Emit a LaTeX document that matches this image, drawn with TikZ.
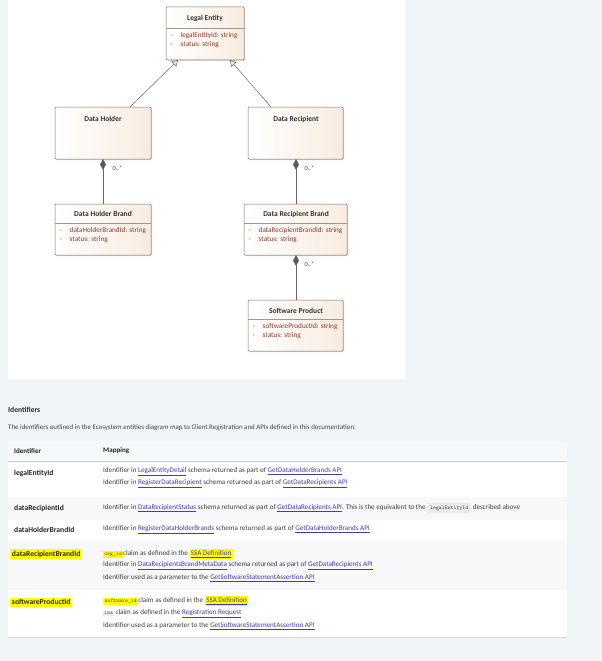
\documentclass[tikz,border=0pt]{standalone}
\usepackage{fontspec}
\setmainfont{Carlito}
\usetikzlibrary{arrows.meta,shadows}
\definecolor{pagebg}{HTML}{F2F5F8}
\definecolor{rowbg}{HTML}{F7F8FA}
\definecolor{attr}{HTML}{8A3B28}
\definecolor{lnk}{HTML}{4A3AB0}
\definecolor{hl}{HTML}{FFFF00}
\definecolor{codebg}{HTML}{ECECEC}
\newcommand{\lk}[1]{\textcolor{lnk}{\underline{#1}}}
\newcommand{\hlt}[1]{\colorbox{hl}{#1}}
\newcommand{\cd}[1]{{\fontsize{5.5}{6}\ttfamily #1}}
\tikzset{
  umlbox/.style={draw=black!55, line width=0.5pt, rounded corners=1pt, left color=white, right color=orange!30!brown!15, drop shadow={shadow xshift=1pt, shadow yshift=-1pt, opacity=0.3}},
  ttl/.style={font=\fontsize{7.5}{8}\selectfont\bfseries, text=black!80},
  att/.style={font=\fontsize{7.2}{9.5}\selectfont, text=attr, anchor=north west, align=left},
  gen/.style={draw=black!60, line width=0.5pt, -{Triangle[open, fill=orange!25, length=6pt, width=7pt]}},
  comp/.style={draw=black!60, line width=0.5pt, {Diamond[fill=black!65, length=11pt, width=6pt]}-},
  mult/.style={font=\fontsize{6.5}{7}\selectfont, text=black!70, anchor=west},
  tx/.style={font=\fontsize{7.1}{8}\selectfont, text=black!75, anchor=west, inner sep=0pt},
  idf/.style={font=\fontsize{7.6}{9}\selectfont\bfseries, text=black!85, anchor=west, inner sep=0pt}
}
\begin{document}
\begin{tikzpicture}[x=1pt,y=-1pt]
\fill[pagebg] (0,0) rectangle (602,661);
\useasboundingbox (0,0) rectangle (602,661);
\fill[white] (8,0) rectangle (405,379);
% boxes
\path[umlbox] (166,7) rectangle (244,60);
\draw[black!40,line width=0.4pt] (166,28) -- (244,28);
\node[ttl] (le) at (205,18) {Legal Entity};
\node[att] at (167,28.5) {-\hspace{8pt}legalEntityId: string\\-\hspace{8pt}status: string};
\path[umlbox] (55,107) rectangle (151,159);
\node[ttl] (dh) at (103,119) {Data Holder};
\path[umlbox] (248,107) rectangle (343,159);
\node[ttl] (dr) at (296,119) {Data Recipient};
\path[umlbox] (55,204) rectangle (151,255);
\draw[black!40,line width=0.4pt] (55,223) -- (151,223);
\node[ttl] (dhb) at (103,214) {Data Holder Brand};
\node[att] at (56,223.5) {-\hspace{8pt}dataHolderBrandId: string\\-\hspace{8pt}status: string};
\path[umlbox] (244,204) rectangle (347,255);
\draw[black!40,line width=0.4pt] (244,223) -- (347,223);
\node[ttl] (drb) at (296,214) {Data Recipient Brand};
\node[att] at (245,223.5) {-\hspace{8pt}dataRecipientBrandId: string\\-\hspace{8pt}status: string};
\path[umlbox] (248,300) rectangle (343,351);
\draw[black!40,line width=0.4pt] (248,319) -- (343,319);
\node[ttl] (sp) at (296,311) {Software Product};
\node[att] at (249,319.5) {-\hspace{8pt}softwareProductId: string\\-\hspace{8pt}status: string};
% connectors
\coordinate (dhT) at (130,107); \coordinate (leL) at (178,60);
\coordinate (drT) at (271,107); \coordinate (leR) at (230,60);
\draw[gen] (dhT) -- (leL);
\draw[gen] (drT) -- (leR);
\coordinate (dhB) at (103,159); \coordinate (dhbT) at (103,204);
\coordinate (drB) at (296,159); \coordinate (drbT) at (296,204);
\coordinate (drbB) at (296,255); \coordinate (spT) at (296,300);
\draw[comp] (dhB) -- (dhbT);
\draw[comp] (drB) -- (drbT);
\draw[comp] (drbB) -- (spT);
\node[mult] at (109,168) {0..*};
\node[mult] at (301,168) {0..*};
\node[mult] at (301,264) {0..*};
% text section
\node[idf] (h) at (8,410) {Identifiers};
\node[tx,font=\fontsize{6.9}{8}\selectfont] (d) at (8,428) {The identifiers outlined in the Ecosystem entities diagram map to Client Registration and APIs defined in this documentation.};
\fill[white] (8,441) rectangle (567,637);
\fill[rowbg] (8,441) rectangle (567,460);
\fill[rowbg] (8,497) rectangle (567,520);
\fill[rowbg] (8,541) rectangle (567,590);
\draw[black!20,line width=0.8pt] (8,461) -- (567,461);
\draw[black!15,line width=0.6pt] (8,637) -- (567,637);
\node[idf,font=\fontsize{7}{8}\selectfont\bfseries] at (14,451) {Identifier};
\node[idf,font=\fontsize{7}{8}\selectfont\bfseries] at (103,451) {Mapping};
\node[idf] at (14,473) {legalEntityId};
\node[tx] at (103,472) {Identifier in \lk{LegalEntityDetail} schema returned as part of \lk{GetDataHolderBrands API}};
\node[tx] at (103,484) {Identifier in \lk{RegisterDataRecipient} schema returned as part of \lk{GetDataRecipients API}};
\node[idf] at (14,508) {dataRecipientId};
\node[tx] at (103,508) {Identifier in \lk{DataRecipientStatus} schema returned as part of \lk{GetDataRecipients API}. This is the equivalent to the \colorbox{codebg}{\cd{legalEntityId}} described above};
\node[idf] at (14,530) {dataHolderBrandId};
\node[tx] at (103,530) {Identifier in \lk{RegisterDataHolderBrands} schema returned as part of \lk{GetDataHolderBrands API}};
\node[idf] at (10,554) {\setlength{\fboxsep}{1.8pt}\hlt{dataRecipientBrandId}};
\node[tx] at (103,554) {\setlength{\fboxsep}{1.2pt}\hlt{\cd{org\_id}}claim as defined in the \hlt{\lk{SSA Definition}}};
\node[tx] at (103,566) {Identifier in \lk{DataRecipientsBrandMetaData} schema returned as part of \lk{GetDataRecipients API}};
\node[tx] at (103,578) {Identifier used as a parameter to the \lk{GetSoftwareStatementAssertion API}};
\node[idf] at (10,602) {\setlength{\fboxsep}{1.8pt}\hlt{softwareProductId}};
\node[tx] at (103,601) {\setlength{\fboxsep}{1.5pt}\hlt{\cd{software\_id}}claim as defined in the \hlt{\lk{SSA Definition}}};
\node[tx] at (103,614) {\setlength{\fboxsep}{1pt}\colorbox{codebg}{\cd{iss}} claim as defined in the \lk{Registration Request}};
\node[tx] at (103,626) {Identifier used as a parameter to the \lk{GetSoftwareStatementAssertion API}};
\end{tikzpicture}
\end{document}
